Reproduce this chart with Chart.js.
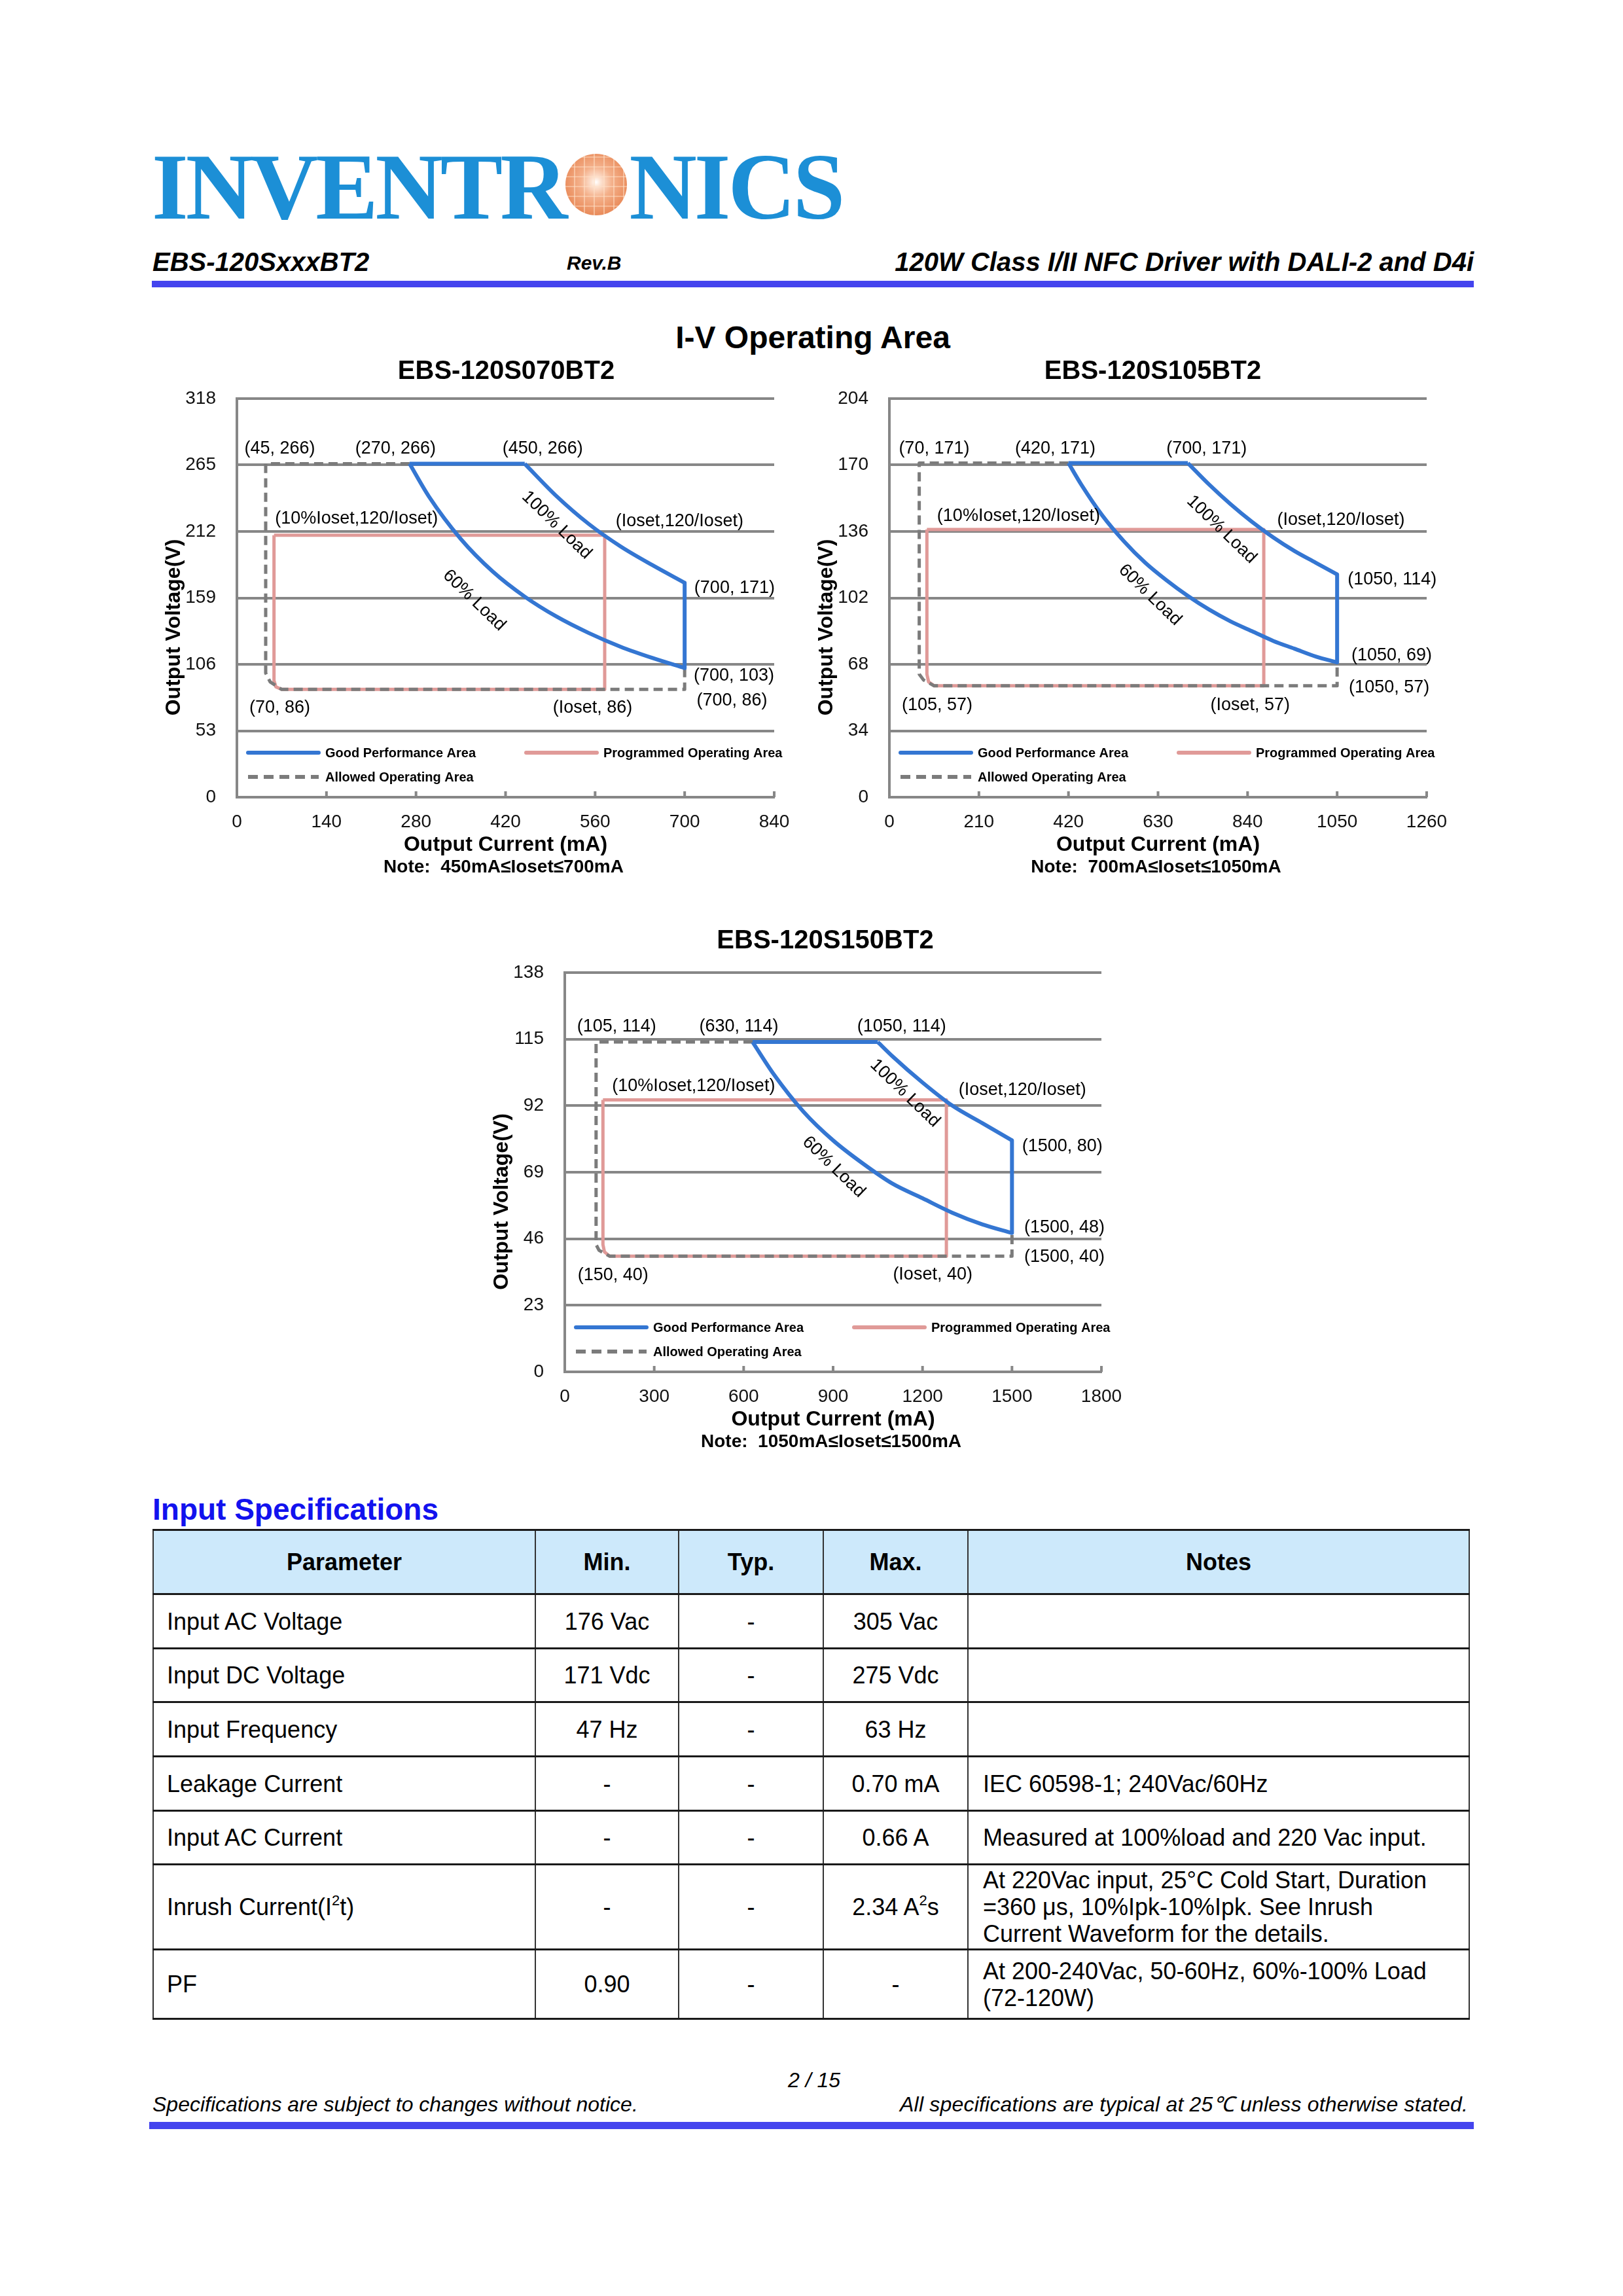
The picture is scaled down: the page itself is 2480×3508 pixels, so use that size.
<!DOCTYPE html>
<html>
<head>
<meta charset="utf-8">
<title>EBS-120SxxxBT2 - I-V Operating Area</title>
<script src="https://cdn.jsdelivr.net/npm/chart.js@4.4.1/dist/chart.umd.min.js"></script>
<style>
  html, body { margin: 0; padding: 0; }
  body { width: 2480px; height: 3508px; position: relative; background: #fff; font-family: 'Liberation Sans', Arial, sans-serif; color: #000; overflow: hidden; }
  .abs { position: absolute; white-space: nowrap; }
  .logo { left: 232px; top: 215px; font-family: 'Liberation Serif', 'DejaVu Serif', serif; font-weight: bold; font-size: 143px; line-height: 143px; color: #1c8fd6; letter-spacing: -4px; }
  .ball { display: inline-block; width: 94px; height: 94px; border-radius: 50%; vertical-align: 5px; margin: 0 4px 0 0;
    background:
      repeating-linear-gradient(90deg, rgba(255,225,200,0) 0 13px, rgba(255,225,200,.55) 13px 15px),
      repeating-linear-gradient(0deg, rgba(255,225,200,0) 0 13px, rgba(255,225,200,.45) 13px 15px),
      radial-gradient(circle at 50% 46%, #ffffff 0%, #fde3d2 10%, #f4b08a 35%, #ea8e5e 70%, #dc7a47 100%); }
  .hdr { font-weight: bold; font-style: italic; }
  .bar { background: #4444ee; height: 10px; }
  .ttl { font-weight: bold; font-size: 48px; line-height: 58px; text-align: center; }
  canvas { position: absolute; }
  .sect { left: 233px; top: 2279px; font-size: 46px; line-height: 54px; font-weight: bold; color: #1212ee; }
  table.spec { position: absolute; left: 233px; top: 2336px; width: 2011px; table-layout: fixed; border-collapse: collapse; font-size: 36px; line-height: 41px; }
  table.spec th, table.spec td { border-left: 2px solid #333; border-right: 2px solid #333; border-top: 3px solid #1a1a1a; border-bottom: 3px solid #1a1a1a; padding: 0; text-align: center; vertical-align: middle; }
  table.spec th { background: #cde9fb; font-weight: bold; }
  table.spec td.p { text-align: left; padding-left: 20px; }
  table.spec td.n { text-align: left; padding-left: 22px; }
  sup { font-size: 22px; line-height: 0; vertical-align: 15px; }
  .foot { font-style: italic; font-size: 32px; line-height: 38px; }
</style>
</head>
<body>

<div class="abs logo">INVENTR<span class="ball"></span>NICS</div>
<div class="abs hdr" style="left:233px; top:376px; font-size:40px; line-height:48px;">EBS-120SxxxBT2</div>
<div class="abs hdr" style="left:866px; top:384px; font-size:30px; line-height:36px;">Rev.B</div>
<div class="abs hdr" style="right:228px; top:376px; font-size:40px; line-height:48px;">120W Class I/II NFC Driver with DALI-2 and D4i</div>
<div class="abs bar" style="left:232px; top:429px; width:2020px;"></div>

<div class="abs ttl" style="left:842px; top:487px; width:800px;">I-V Operating Area</div>

<canvas id="c070" width="1060" height="820" style="left:240px; top:540px;"></canvas>
<canvas id="c105" width="1063" height="820" style="left:1237px; top:540px;"></canvas>
<canvas id="c150" width="1059" height="828" style="left:741px; top:1410px;"></canvas>

<div class="abs sect">Input Specifications</div>
<table class="spec">
  <colgroup>
    <col style="width:584px"><col style="width:219px"><col style="width:221px"><col style="width:221px"><col style="width:766px">
  </colgroup>
  <tr style="height:98px"><th>Parameter</th><th>Min.</th><th>Typ.</th><th>Max.</th><th>Notes</th></tr>
  <tr style="height:83px"><td class="p">Input AC Voltage</td><td>176 Vac</td><td>-</td><td>305 Vac</td><td class="n"></td></tr>
  <tr style="height:82px"><td class="p">Input DC Voltage</td><td>171 Vdc</td><td>-</td><td>275 Vdc</td><td class="n"></td></tr>
  <tr style="height:83px"><td class="p">Input Frequency</td><td>47 Hz</td><td>-</td><td>63 Hz</td><td class="n"></td></tr>
  <tr style="height:83px"><td class="p">Leakage Current</td><td>-</td><td>-</td><td>0.70 mA</td><td class="n">IEC 60598-1; 240Vac/60Hz</td></tr>
  <tr style="height:82px"><td class="p">Input AC Current</td><td>-</td><td>-</td><td>0.66 A</td><td class="n">Measured at 100%load and 220 Vac input.</td></tr>
  <tr style="height:130px"><td class="p">Inrush Current(I<sup>2</sup>t)</td><td>-</td><td>-</td><td>2.34 A<sup>2</sup>s</td><td class="n">At 220Vac input, 25°C Cold Start, Duration<br>=360 μs, 10%Ipk-10%Ipk. See Inrush<br>Current Waveform for the details.</td></tr>
  <tr style="height:106px"><td class="p">PF</td><td>0.90</td><td>-</td><td>-</td><td class="n">At 200-240Vac, 50-60Hz, 60%-100% Load<br>(72-120W)</td></tr>
</table>

<div class="abs foot" style="left:1044px; top:3159px; width:400px; text-align:center;">2 / 15</div>
<div class="abs foot" style="left:233px; top:3196px;">Specifications are subject to changes without notice.</div>
<div class="abs foot" style="right:237px; top:3196px; letter-spacing:0.2px;">All specifications are typical at 25℃ unless otherwise stated.</div>
<div class="abs bar" style="left:228px; top:3242px; width:2024px; height:11px;"></div>

<script>
// ---------- EBS-120S070BT2 ----------
const s070XTicks = [0, 140, 280, 420, 560, 700, 840];
const s070YTicks = [0, 53, 106, 159, 212, 265, 318];
const s070TopI = [270, 450];
const s070TopV = [266, 266];
const s070FullI = [450, 500, 550, 600, 650, 700];
const s070FullV = [266, 240, 218, 200, 185, 171];
const s070EdgeI = [700, 700];
const s070EdgeV = [171, 103];
const s070SixtyI = [270, 300, 350, 400, 450, 500, 550, 600, 650, 700];
const s070SixtyV = [266, 240, 206, 180, 160, 144, 131, 120, 111, 103];
const s070AllowI = [270, 45, 45, 52, 70, 700, 700];
const s070AllowV = [266, 266, 99, 92, 86, 86, 103];
const s070ProgI = [58, 575, 575, 70, 61, 58, 58];
const s070ProgV = [209, 209, 86, 86, 88, 93, 209];
const s070Labels = ['(45, 266)', '(270, 266)', '(450, 266)', '(10%Ioset,120/Ioset)', '(Ioset,120/Ioset)',
  '(700, 171)', '(700, 103)', '(700, 86)', '(70, 86)', '(Ioset, 86)'];
const s070LabelI = [67, 248, 478, 187, 692, 778, 777, 774, 67, 556];
const s070LabelV = [278, 278, 278, 222, 220, 167, 97, 77, 71, 71];
const s070LoadText = ['100% Load', '60% Load'];
const s070LoadI = [500, 371];
const s070LoadV = [217, 157];

// ---------- EBS-120S105BT2 ----------
const s105XTicks = [0, 210, 420, 630, 840, 1050, 1260];
const s105YTicks = [0, 34, 68, 102, 136, 170, 204];
const s105TopI = [420, 700];
const s105TopV = [171, 171];
const s105FullI = [700, 750, 800, 850, 900, 950, 1000, 1050];
const s105FullV = [171, 160, 150, 141, 133, 126, 120, 114];
const s105EdgeI = [1050, 1050];
const s105EdgeV = [114, 69];
const s105SixtyI = [420, 450, 500, 550, 600, 650, 700, 750, 800, 850, 900, 950, 1000, 1050];
const s105SixtyV = [171, 160, 144, 131, 120, 111, 103, 96, 90, 85, 80, 76, 72, 69];
const s105AllowI = [420, 70, 70, 80, 105, 1050, 1050];
const s105AllowV = [171, 171, 63, 60, 57, 57, 69];
const s105ProgI = [88, 878, 878, 105, 92, 88, 88];
const s105ProgV = [137, 137, 57, 57, 59, 63, 137];
const s105Labels = ['(70, 171)', '(420, 171)', '(700, 171)', '(10%Ioset,120/Ioset)', '(Ioset,120/Ioset)',
  '(1050, 114)', '(1050, 69)', '(1050, 57)', '(105, 57)', '(Ioset, 57)'];
const s105LabelI = [105, 389, 744, 303, 1059, 1179, 1178, 1172, 112, 846];
const s105LabelV = [178.5, 178.5, 178.5, 144, 142, 111.5, 72.4, 56, 47, 47];
const s105LoadText = ['100% Load', '60% Load'];
const s105LoadI = [779, 611];
const s105LoadV = [137, 103.5];

// ---------- EBS-120S150BT2 ----------
const s150XTicks = [0, 300, 600, 900, 1200, 1500, 1800];
const s150YTicks = [0, 23, 46, 69, 92, 115, 138];
const s150TopI = [630, 1050];
const s150TopV = [114, 114];
const s150FullI = [1050, 1100, 1200, 1300, 1400, 1500];
const s150FullV = [114, 109, 100, 92, 86, 80];
const s150EdgeI = [1500, 1500];
const s150EdgeV = [80, 48];
const s150SixtyI = [630, 700, 800, 900, 1000, 1100, 1200, 1300, 1400, 1500];
const s150SixtyV = [114, 103, 90, 80, 72, 65, 60, 55, 51, 48];
const s150AllowI = [630, 105, 105, 115, 150, 1500, 1500];
const s150AllowV = [114, 114, 44, 42, 40, 40, 48];
const s150ProgI = [128, 1280, 1280, 150, 133, 128, 128];
const s150ProgV = [94, 94, 40, 40, 41.5, 44, 94];
const s150Labels = ['(105, 114)', '(630, 114)', '(1050, 114)', '(10%Ioset,120/Ioset)', '(Ioset,120/Ioset)',
  '(1500, 80)', '(1500, 48)', '(1500, 40)', '(150, 40)', '(Ioset, 40)'];
const s150LabelI = [174, 584, 1130, 432, 1535, 1669, 1676, 1676, 162, 1234];
const s150LabelV = [119.3, 119.3, 119.3, 98.7, 97.3, 78, 49.8, 39.7, 33.3, 33.5];
const s150LoadText = ['100% Load', '60% Load'];
const s150LoadI = [1141, 902];
const s150LoadV = [96.3, 70.8];

const FONT = "'Liberation Sans', Arial, sans-serif";
const BLUE = '#3476d2';
const PINK = '#e09a98';
const GRAY = '#7b7b7b';
const GRID = '#878787';

Chart.defaults.font.family = FONT;
Chart.defaults.color = '#000';

const pts = (xs, ys) => xs.map((x, i) => ({ x: x, y: ys[i] }));

// titles, notes, point labels and the legend box inside the plot
const extrasPlugin = {
  id: 'extras',
  afterDraw(chart, args, o) {
    const { ctx, chartArea: a, scales } = chart;
    const xs = scales.x, ys = scales.y;
    const midX = (a.left + a.right) / 2;
    ctx.save();

    // short tick marks pointing up from the x axis
    ctx.strokeStyle = GRID;
    ctx.lineWidth = 4;
    xs.ticks.forEach(t => {
      const px = xs.getPixelForValue(t.value);
      ctx.beginPath();
      ctx.moveTo(px, a.bottom);
      ctx.lineTo(px, a.bottom - 9);
      ctx.stroke();
    });

    ctx.fillStyle = '#000';
    ctx.textAlign = 'center';
    ctx.textBaseline = 'middle';

    // chart title
    ctx.font = 'bold 40px ' + FONT;
    ctx.fillText(o.title, midX + o.titleDx, a.top + o.titleDy);

    // note under the x title
    ctx.font = 'bold 28px ' + FONT;
    ctx.fillText(o.note, midX - 3, a.bottom + 107);

    // y axis title
    ctx.save();
    ctx.translate(a.left - 96, (a.top + a.bottom) / 2 + 45);
    ctx.rotate(-Math.PI / 2);
    ctx.font = 'bold 32px ' + FONT;
    ctx.fillText('Output Voltage(V)', 0, 0);
    ctx.restore();

    // corner labels
    ctx.font = '27px ' + FONT;
    o.labels.forEach((txt, i) => {
      ctx.fillText(txt, xs.getPixelForValue(o.labelI[i]), ys.getPixelForValue(o.labelV[i]));
    });

    // load curve labels
    o.loadText.forEach((txt, i) => {
      ctx.save();
      ctx.translate(xs.getPixelForValue(o.loadI[i]), ys.getPixelForValue(o.loadV[i]));
      ctx.rotate(44 * Math.PI / 180);
      ctx.fillText(txt, 0, 0);
      ctx.restore();
    });

    // legend
    const legend = [
      { text: 'Good Performance Area', color: BLUE, dash: [], dx: 17, row: 0 },
      { text: 'Programmed Operating Area', color: PINK, dash: [], dx: 442, row: 0 },
      { text: 'Allowed Operating Area', color: GRAY, dash: [15, 9], dx: 17, row: 1 }
    ];
    ctx.font = 'bold 20px ' + FONT;
    ctx.textAlign = 'left';
    legend.forEach(item => {
      const ly = a.bottom - (item.row === 0 ? 68 : 31);
      ctx.strokeStyle = item.color;
      ctx.lineWidth = 6;
      ctx.lineCap = item.dash.length ? 'butt' : 'round';
      ctx.setLineDash(item.dash);
      ctx.beginPath();
      ctx.moveTo(a.left + item.dx, ly);
      ctx.lineTo(a.left + item.dx + 108, ly);
      ctx.stroke();
      ctx.setLineDash([]);
      ctx.fillText(item.text, a.left + item.dx + 118, ly + 1);
    });

    ctx.restore();
  }
};

function makeChart(id, d) {
  const line = (label, data, color, width, order, extra) => Object.assign({
    label: label,
    data: data,
    showLine: true,
    borderColor: color,
    backgroundColor: color,
    borderWidth: width,
    pointRadius: 0,
    pointHoverRadius: 0,
    fill: false,
    tension: 0,
    order: order,
    borderJoinStyle: 'round'
  }, extra || {});

  const datasets = [
    line('Good Performance Area', pts(d.topI, d.topV), BLUE, 6, 1),
    line('Good Performance Area', pts(d.fullI, d.fullV), BLUE, 6, 1, { tension: 0.4, cubicInterpolationMode: 'monotone' }),
    line('Good Performance Area', pts(d.edgeI, d.edgeV), BLUE, 6, 1),
    line('Good Performance Area', pts(d.sixtyI, d.sixtyV), BLUE, 6, 1, { tension: 0.4, cubicInterpolationMode: 'monotone' }),
    line('Allowed Operating Area', pts(d.allowI, d.allowV), GRAY, 5, 2, { borderDash: [14, 8] }),
    line('Programmed Operating Area', pts(d.progI, d.progV), PINK, 5, 3)
  ];

  return new Chart(document.getElementById(id), {
    type: 'scatter',
    data: { datasets: datasets },
    options: {
      responsive: false,
      animation: false,
      devicePixelRatio: 1,
      events: [],
      layout: { padding: { left: 0, top: d.padTop, right: d.padRight, bottom: 0 } },
      plugins: {
        legend: { display: false },
        tooltip: { enabled: false },
        extras: {
          title: d.title, titleDx: d.titleDx, titleDy: d.titleDy, note: d.note,
          labels: d.labels, labelI: d.labelI, labelV: d.labelV,
          loadText: d.loadText, loadI: d.loadI, loadV: d.loadV
        }
      },
      scales: {
        x: {
          type: 'linear',
          min: d.xTicks[0],
          max: d.xTicks[d.xTicks.length - 1],
          afterBuildTicks: s => { s.ticks = d.xTicks.map(v => ({ value: v })); },
          afterFit: s => { s.height = 142; },
          grid: { display: false, drawTicks: false },
          border: { display: true, color: GRID, width: 4 },
          ticks: { font: { size: 28 }, color: '#111', padding: 21, maxRotation: 0, autoSkip: false, callback: v => String(v) },
          title: { display: true, text: 'Output Current (mA)', font: { size: 32, weight: 'bold' }, color: '#000', padding: { top: 0, bottom: 50 } }
        },
        y: {
          type: 'linear',
          min: d.yTicks[0],
          max: d.yTicks[d.yTicks.length - 1],
          afterBuildTicks: s => { s.ticks = d.yTicks.map(v => ({ value: v })); },
          afterFit: s => { s.width = 122; },
          grid: { color: GRID, lineWidth: 4, drawTicks: false },
          border: { display: true, color: GRID, width: 4 },
          ticks: { font: { size: 28 }, color: '#111', padding: 32, autoSkip: false, callback: v => String(v) }
        }
      }
    },
    plugins: [extrasPlugin]
  });
}

makeChart('c070', {
  title: 'EBS-120S070BT2', titleDx: 1, titleDy: -41, note: 'Note:  450mA\u2264Ioset\u2264700mA',
  padTop: 69, padRight: 117,
  xTicks: s070XTicks, yTicks: s070YTicks,
  topI: s070TopI, topV: s070TopV, fullI: s070FullI, fullV: s070FullV,
  edgeI: s070EdgeI, edgeV: s070EdgeV, sixtyI: s070SixtyI, sixtyV: s070SixtyV,
  allowI: s070AllowI, allowV: s070AllowV, progI: s070ProgI, progV: s070ProgV,
  labels: s070Labels, labelI: s070LabelI, labelV: s070LabelV,
  loadText: s070LoadText, loadI: s070LoadI, loadV: s070LoadV
});

makeChart('c105', {
  title: 'EBS-120S105BT2', titleDx: -8, titleDy: -41, note: 'Note:  700mA\u2264Ioset\u22641050mA',
  padTop: 69, padRight: 120,
  xTicks: s105XTicks, yTicks: s105YTicks,
  topI: s105TopI, topV: s105TopV, fullI: s105FullI, fullV: s105FullV,
  edgeI: s105EdgeI, edgeV: s105EdgeV, sixtyI: s105SixtyI, sixtyV: s105SixtyV,
  allowI: s105AllowI, allowV: s105AllowV, progI: s105ProgI, progV: s105ProgV,
  labels: s105Labels, labelI: s105LabelI, labelV: s105LabelV,
  loadText: s105LoadText, loadI: s105LoadI, loadV: s105LoadV
});

makeChart('c150', {
  title: 'EBS-120S150BT2', titleDx: -12, titleDy: -48, note: 'Note:  1050mA\u2264Ioset\u22641500mA',
  padTop: 76, padRight: 117,
  xTicks: s150XTicks, yTicks: s150YTicks,
  topI: s150TopI, topV: s150TopV, fullI: s150FullI, fullV: s150FullV,
  edgeI: s150EdgeI, edgeV: s150EdgeV, sixtyI: s150SixtyI, sixtyV: s150SixtyV,
  allowI: s150AllowI, allowV: s150AllowV, progI: s150ProgI, progV: s150ProgV,
  labels: s150Labels, labelI: s150LabelI, labelV: s150LabelV,
  loadText: s150LoadText, loadI: s150LoadI, loadV: s150LoadV
});
</script>
</body>
</html>
